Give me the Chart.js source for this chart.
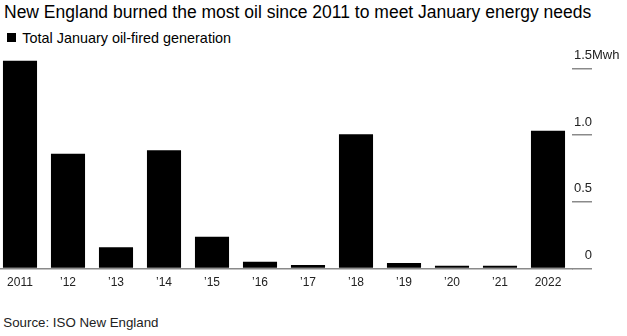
<!DOCTYPE html>
<html>
<head>
<meta charset="utf-8">
<script src="https://cdn.jsdelivr.net/npm/chart.js@4/dist/chart.umd.min.js"></script>
<style>
  html, body { margin: 0; padding: 0; background: #fff; }
  body { width: 627px; height: 336px; position: relative; overflow: hidden; font-family: "Liberation Sans", Arial, sans-serif; }
  #title { position: absolute; left: 4px; top: 2.2px; font-size: 17.5px; line-height: 20px; color: #000; white-space: nowrap; }
  #legend { position: absolute; left: 0; top: 29.7px; font-size: 14.4px; line-height: 16px; color: #000; white-space: nowrap; }
  #legend .sw { position: absolute; left: 7px; top: 3.8px; width: 9px; height: 9px; background: #000; }
  #legend .lt { position: absolute; left: 22.3px; top: 0; }
  #source { position: absolute; left: 3.3px; top: 314.6px; font-size: 13.3px; line-height: 15px; color: #222; white-space: nowrap; }
  #wrap { position: absolute; left: -4px; top: 0; width: 631px; height: 300px; }
</style>
</head>
<body>
<div id="title">New England burned the most oil since 2011 to meet January energy needs</div>
<div id="legend"><span class="sw"></span><span class="lt">Total January oil-fired generation</span></div>
<div id="wrap"><canvas id="c" width="631" height="300"></canvas></div>
<div id="source">Source: ISO New England</div>
<script>
const categories = ['2011', '\u201912', '\u201913', '\u201914', '\u201915', '\u201916', '\u201917', '\u201918', '\u201919', '\u201920', '\u201921', '2022'];
const oilGeneration = [1.557, 0.86, 0.159, 0.886, 0.238, 0.05, 0.027, 1.006, 0.042, 0.02, 0.02, 1.032];
const yTicks = [0, 0.5, 1.0, 1.5];
const yUnit = 'Mwh';
const seriesName = 'Total January oil-fired generation';

const GREY = '#8a8a8a';
const TICK_FONT = { family: '"Liberation Sans", Arial, sans-serif', size: 13 };

const unitPlugin = {
  id: 'unitPlugin',
  afterDraw(chart) {
    const s = chart.scales.y;
    const top = yTicks[yTicks.length - 1];
    const ctx = chart.ctx;
    ctx.save();
    ctx.font = TICK_FONT.size + 'px ' + TICK_FONT.family;
    ctx.fillStyle = '#222';
    ctx.textAlign = 'left';
    ctx.textBaseline = 'middle';
    const x = s.left + 20;
    const y = s.getPixelForValue(top) - 13;
    ctx.fillText(yUnit, x, y);
    ctx.restore();
  }
};

new Chart(document.getElementById('c'), {
  type: 'bar',
  data: {
    labels: categories,
    datasets: [{
      label: seriesName,
      data: oilGeneration,
      backgroundColor: '#000',
      borderWidth: 0,
      barPercentage: 0.71,
      categoryPercentage: 1.0,
      clip: false
    }]
  },
  options: {
    responsive: false,
    animation: false,
    devicePixelRatio: 1,
    layout: { padding: { left: 0, right: 0, top: 68.3, bottom: 0 } },
    plugins: {
      legend: { display: false },
      title: { display: false },
      tooltip: { enabled: false }
    },
    scales: {
      x: {
        offset: true,
        grid: { display: false, drawTicks: false },
        border: { display: true, color: GREY, width: 1.5 },
        ticks: {
          color: '#222',
          font: { family: TICK_FONT.family, size: 12 },
          padding: 7,
          maxRotation: 0,
          autoSkip: false
        },
        afterFit(scale) { scale.height = 31.5; }
      },
      y: {
        position: 'right',
        min: 0,
        max: 1.5,
        afterBuildTicks(scale) { scale.ticks = yTicks.map(v => ({ value: v })); },
        grid: {
          drawOnChartArea: false,
          drawTicks: true,
          tickLength: 20,
          color: GREY,
          lineWidth: 1.5
        },
        border: { display: false },
        ticks: {
          mirror: true,
          padding: 20,
          labelOffset: -13,
          color: '#222',
          font: TICK_FONT,
          callback: (v) => v === 0 ? '0' : Number(v).toFixed(1)
        },
        afterFit(scale) { scale.width = 55; }
      }
    }
  },
  plugins: [unitPlugin]
});
</script>
</body>
</html>
